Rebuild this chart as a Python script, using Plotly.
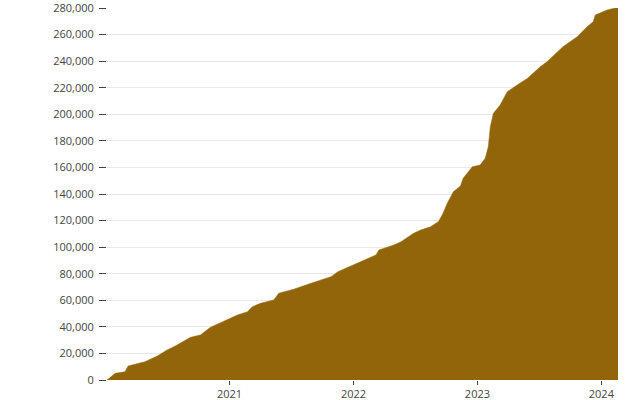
import plotly.graph_objects as go

# cumulative total
dates = [
    "2020-01-06", "2020-01-30", "2020-02-28", "2020-03-08", "2020-04-27",
    "2020-06-02", "2020-07-01", "2020-07-25", "2020-09-08", "2020-10-07",
    "2020-11-05", "2020-12-25", "2021-01-24", "2021-02-23", "2021-03-09",
    "2021-04-02", "2021-05-11", "2021-05-26", "2021-07-09", "2021-08-29",
    "2021-10-27", "2021-11-16", "2022-01-24", "2022-03-08", "2022-03-17",
    "2022-04-30", "2022-05-21", "2022-06-04", "2022-06-27", "2022-07-18",
    "2022-08-16", "2022-09-08", "2022-09-20", "2022-10-05", "2022-10-22",
    "2022-11-12", "2022-11-20", "2022-12-17", "2023-01-09", "2023-01-24",
    "2023-02-02", "2023-02-08", "2023-02-17", "2023-03-09", "2023-03-30",
    "2023-04-28", "2023-05-28", "2023-07-05", "2023-07-25", "2023-09-10",
    "2023-10-22", "2023-11-20", "2023-12-08", "2023-12-14", "2024-01-18",
    "2024-02-19",
]
totals = [
    0, 5000, 6200, 10500, 13800,
    18000, 22600, 25600, 32100, 33900,
    39600, 45200, 48900, 51400, 55200,
    57700, 60200, 65300, 68300, 72800,
    77800, 81500, 89000, 94100, 97900,
    101600, 104100, 106700, 110400, 112900,
    115400, 119200, 124500, 133500, 141700,
    146000, 151800, 160500, 161800, 166900,
    175600, 190700, 200700, 207000, 217000,
    222000, 227000, 235800, 239600, 250900,
    258400, 265900, 269700, 274700, 278500,
    280500,
]

fig = go.Figure(go.Scatter(
    x=dates,
    y=totals,
    mode="lines",
    line=dict(color="#93650a", width=0.5),
    fill="tozeroy",
    fillcolor="#93650a",
    hoverinfo="skip",
))

fig.update_layout(
    width=640,
    height=400,
    margin=dict(l=107, r=22, t=8, b=20),
    plot_bgcolor="white",
    paper_bgcolor="white",
    font=dict(family="Open Sans", size=11, color="#444"),
    showlegend=False,
    xaxis=dict(
        type="date",
        range=["2020-01-06", "2024-02-19"],
        dtick="M12",
        tick0="2021-01-01",
        tickformat="%Y",
        ticks="outside",
        ticklen=4,
        tickcolor="#444",
        showgrid=False,
        showline=False,
        zeroline=False,
        automargin=False,
    ),
    yaxis=dict(
        range=[0, 280000],
        dtick=20000,
        tickformat=",d",
        ticks="outside",
        ticklen=7,
        tickcolor="#444",
        ticklabelstandoff=3,
        ticklabeloverflow="allow",
        gridcolor="#e8e8e8",
        showline=False,
        zeroline=False,
        automargin=False,
    ),
)

# page has a default 8px body margin; drop it so the figure sits at 0,0
fig.write_html(
    "out.html",
    config={"displayModeBar": False},
    post_script="document.body.style.margin='0';document.body.style.overflow='hidden';",
)
